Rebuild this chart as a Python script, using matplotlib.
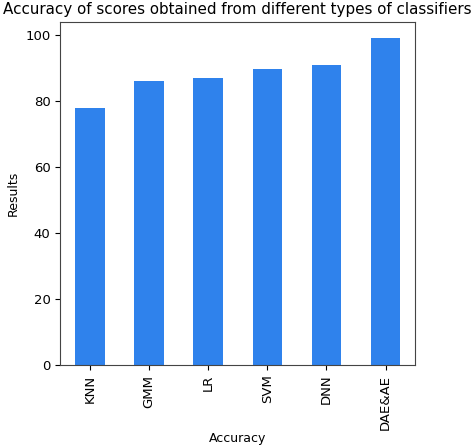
import numpy as np
import matplotlib
matplotlib.use("Agg")
import matplotlib.pyplot as plt

classifiers = ["KNN", "GMM", "LR", "SVM", "DNN", "DAE&AE"]
accuracy = [78, 86, 87, 89.7, 91, 99.2]

fig = plt.figure(figsize=(4.74, 4.45), dpi=100)
ax = fig.add_axes([0.127, 0.18, 0.749, 0.771])

x = np.arange(len(classifiers))
ax.bar(x, accuracy, width=0.5, color="#2f82ec")
ax.set_xlim(-0.5, len(classifiers) - 0.5)
ax.set_ylim(0, 104)
ax.set_xticks(x)
ax.set_xticklabels(classifiers, rotation=90, fontsize=9.5)
ax.set_yticks([0, 20, 40, 60, 80, 100])
ax.tick_params(axis="y", labelsize=9.5)
for s in ax.spines.values():
    s.set_color("#444444")
ax.set_xlabel("Accuracy", fontsize=9, labelpad=2)
ax.set_ylabel("Results", fontsize=9)
fig.text(0.5, 0.962, "Accuracy of scores obtained from different types of classifiers",
         ha="center", va="bottom", fontsize=10.9)

fig.savefig("out.png", dpi=100)
